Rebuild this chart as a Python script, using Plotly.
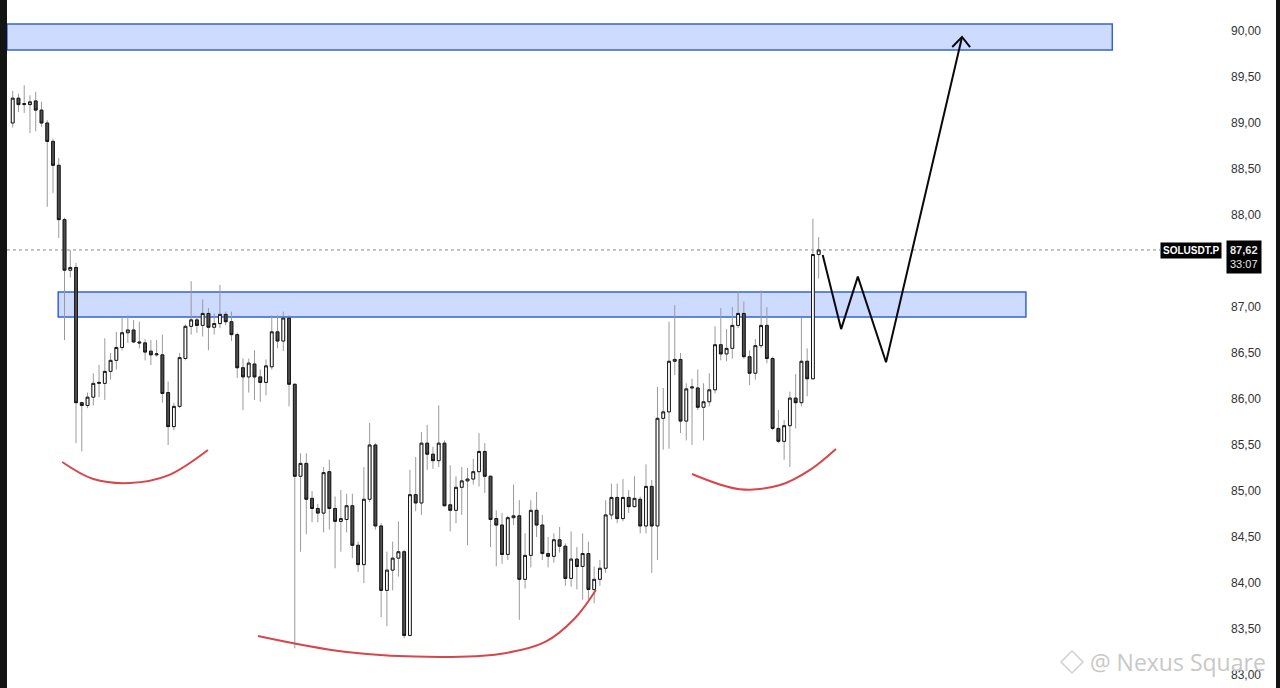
import plotly.graph_objects as go

# ---------------- data ----------------
opens = [89.00, 89.27, 89.20, 89.20, 89.24, 89.14, 89.00, 88.80, 88.54, 87.95,
         87.40, 87.43, 85.96, 85.93, 86.02, 86.17, 86.17, 86.30, 86.42, 86.56,
         86.72, 86.75, 86.62, 86.61, 86.52, 86.48, 86.48, 86.07, 85.70, 85.92,
         86.44, 86.79, 86.86, 86.80, 86.93, 86.78, 86.82, 86.92, 86.84, 86.70,
         86.34, 86.24, 86.38, 86.24, 86.18, 86.35, 86.73, 86.63, 86.88, 86.16,
         85.16, 85.30, 84.92, 84.81, 84.76, 85.21, 84.81, 84.67, 84.69, 84.84,
         84.41, 84.20, 84.91, 85.50, 84.62, 83.92, 84.14, 84.27, 84.34, 83.43,
         84.96, 84.87, 85.52, 85.40, 85.33, 85.52, 84.85, 84.79, 85.04, 85.11,
         85.13, 85.21, 85.43, 85.16, 84.70, 84.63, 84.31, 84.71, 84.73, 84.04,
         84.30, 84.79, 84.63, 84.32, 84.29, 84.47, 84.40, 84.05, 84.26, 84.18,
         84.32, 83.93, 84.04, 84.16, 84.74, 84.93, 84.70, 84.93, 84.83, 84.91,
         84.62, 85.05, 84.62, 85.79, 85.86, 86.41, 86.43, 85.76, 86.12, 86.12,
         85.91, 85.97, 86.10, 86.59, 86.49, 86.55, 86.80, 86.93, 86.46, 86.28,
         86.58, 86.80, 86.44, 85.68, 85.54, 85.71, 86.01, 85.96, 86.41, 86.22,
         87.57]
highs = [89.35, 89.32, 89.41, 89.30, 89.34, 89.23, 89.03, 88.83, 88.62, 87.97,
         87.62, 87.48, 85.97, 86.07, 86.28, 86.37, 86.66, 86.50, 86.73, 86.89,
         86.91, 86.86, 86.84, 86.65, 86.64, 86.64, 86.70, 86.19, 85.96, 86.50,
         86.81, 87.28, 86.90, 87.08, 86.99, 86.93, 87.24, 86.95, 86.95, 86.72,
         86.44, 86.44, 86.53, 86.32, 86.43, 86.91, 86.91, 86.95, 86.91, 86.17,
         85.41, 85.41, 85.00, 84.86, 85.26, 85.34, 84.94, 85.01, 84.97, 84.97,
         84.45, 85.26, 85.74, 85.52, 84.65, 84.34, 84.45, 84.67, 84.36, 85.23,
         85.37, 85.64, 85.72, 85.48, 85.93, 85.55, 85.28, 85.16, 85.26, 85.25,
         85.35, 85.63, 85.52, 85.17, 84.79, 84.76, 84.73, 85.07, 84.90, 84.54,
         84.90, 84.99, 84.74, 84.50, 84.54, 84.61, 84.43, 84.56, 84.39, 84.54,
         84.45, 84.18, 84.25, 84.90, 85.08, 85.08, 85.13, 85.01, 85.16, 84.94,
         85.29, 85.12, 86.13, 86.12, 86.84, 87.02, 86.50, 86.17, 86.22, 86.32,
         86.17, 86.28, 86.79, 86.99, 86.76, 87.00, 87.17, 87.06, 86.53, 86.65,
         87.18, 87.00, 86.46, 85.88, 85.77, 86.08, 86.27, 86.88, 86.55, 87.96,
         87.76]
lows = [88.95, 89.12, 89.11, 88.89, 88.91, 88.96, 88.09, 88.24, 87.75, 86.64,
        87.32, 85.52, 85.43, 85.90, 85.93, 86.02, 85.99, 86.21, 86.32, 86.53,
        86.61, 86.61, 86.55, 86.42, 86.37, 86.46, 85.96, 85.50, 85.66, 85.90,
        86.42, 86.70, 86.72, 86.68, 86.53, 86.70, 86.77, 86.80, 86.63, 86.23,
        85.88, 86.07, 85.99, 85.97, 86.04, 86.32, 86.55, 86.52, 85.92, 83.29,
        84.34, 84.53, 84.66, 84.66, 84.55, 84.58, 84.16, 84.34, 84.55, 84.27,
        84.12, 84.00, 84.88, 84.58, 83.63, 83.53, 83.92, 84.07, 83.40, 83.42,
        84.78, 84.74, 85.23, 85.24, 85.26, 84.83, 84.56, 84.65, 84.74, 84.41,
        85.07, 85.05, 84.98, 84.39, 84.18, 84.21, 84.25, 84.63, 83.60, 83.94,
        84.17, 84.50, 84.25, 84.17, 84.22, 84.33, 83.97, 83.96, 83.93, 83.82,
        83.82, 83.78, 83.97, 84.11, 84.69, 84.65, 84.67, 84.76, 84.82, 84.54,
        84.54, 84.11, 84.25, 85.45, 85.46, 86.26, 85.63, 85.55, 85.50, 85.88,
        85.55, 85.92, 86.06, 86.42, 86.41, 86.44, 86.77, 86.44, 86.15, 86.21,
        86.55, 86.39, 85.66, 85.52, 85.34, 85.26, 85.68, 85.92, 86.03, 86.21,
        87.31]
closes = [89.27, 89.20, 89.21, 89.23, 89.14, 89.00, 88.80, 88.54, 87.95, 87.40,
          87.43, 85.96, 85.93, 86.02, 86.17, 86.18, 86.30, 86.42, 86.56, 86.72,
          86.75, 86.62, 86.61, 86.51, 86.48, 86.49, 86.06, 85.70, 85.92, 86.45,
          86.79, 86.86, 86.80, 86.93, 86.78, 86.82, 86.92, 86.84, 86.70, 86.34,
          86.24, 86.39, 86.24, 86.18, 86.36, 86.73, 86.63, 86.88, 86.16, 85.16,
          85.30, 84.91, 84.81, 84.76, 85.20, 84.81, 84.67, 84.70, 84.84, 84.41,
          84.20, 84.91, 85.50, 84.62, 83.92, 84.14, 84.27, 84.34, 83.43, 84.96,
          84.87, 85.52, 85.40, 85.33, 85.52, 84.84, 84.79, 85.04, 85.11, 85.13,
          85.21, 85.43, 85.16, 84.69, 84.63, 84.31, 84.71, 84.73, 84.04, 84.30,
          84.79, 84.63, 84.32, 84.29, 84.47, 84.40, 84.05, 84.26, 84.18, 84.32,
          83.93, 84.04, 84.16, 84.74, 84.93, 84.70, 84.93, 84.83, 84.92, 84.62,
          85.05, 84.62, 85.79, 85.86, 86.41, 86.43, 85.76, 86.11, 86.13, 85.91,
          85.97, 86.10, 86.59, 86.49, 86.55, 86.80, 86.93, 86.46, 86.28, 86.58,
          86.80, 86.44, 85.68, 85.54, 85.71, 86.01, 85.96, 86.41, 86.22, 87.57,
          87.62]
bars = list(range(len(opens)))

last_price = 87.62
price_label = ["87,62", "33:07"]
symbol = "SOLUSDT.P"

tick_vals = [83.0, 83.5, 84.0, 84.5, 85.0, 85.5, 86.0, 86.5, 87.0, 87.5, 88.0, 88.5, 89.0, 89.5, 90.0]
tick_text = ["83,00", "83,50", "84,00", "84,50", "85,00", "85,50", "86,00", "86,50",
             "87,00", "", "88,00", "88,50", "89,00", "89,50", "90,00"]

# zones: (x start bar, x end bar, low price, high price)
zone_top = (-1.0, 191.0, 89.793, 90.076)
zone_mid = (7.9, 176.0, 86.891, 87.163)

# projected path (bar index, price)
path_x = [140.7, 143.9, 146.8, 151.7, 164.9]
path_y = [87.565, 86.76, 87.33, 86.40, 89.935]
arrow_x = [163.2, 164.9, 166.3]
arrow_y = [89.826, 89.935, 89.826]

# red curves (bar index, price)
curve1_x = [8.6, 14.0, 20.4, 27.0, 33.9]
curve1_y = [85.315, 85.13, 85.087, 85.17, 85.446]
curve2_x = [42.6, 58.0, 74.2, 84.6, 92.5, 97.7, 101.3]
curve2_y = [83.424, 83.25, 83.196, 83.228, 83.36, 83.62, 83.924]
curve3_x = [118.0, 126.3, 133.3, 138.5, 143.0]
curve3_y = [85.185, 85.02, 85.065, 85.23, 85.457]

# ---------------- figure ----------------
W, H = 1276, 688          # the last 4 px of the window are the dark page background
bar_px = 5.757
x0_px = 12.7


def px2bar(px):
    return (px - x0_px) / bar_px


x_lo, x_hi = px2bar(0), px2bar(W)
y_top = 90 + 31 / 92
y_bot = 90 - (H - 31) / 92

fig = go.Figure()

# wicks (gray)
fig.add_trace(go.Candlestick(
    x=bars, open=opens, high=highs, low=lows, close=closes,
    increasing=dict(line=dict(color="#9a9a9a", width=1), fillcolor="#ffffff"),
    decreasing=dict(line=dict(color="#9a9a9a", width=1), fillcolor="#4f4f4f"),
    whiskerwidth=0, showlegend=False, hoverinfo="skip"))
# bodies (black outline)
body_hi = [max(o, c) for o, c in zip(opens, closes)]
body_lo = [min(o, c) for o, c in zip(opens, closes)]
fig.add_trace(go.Candlestick(
    x=bars, open=opens, high=body_hi, low=body_lo, close=closes,
    increasing=dict(line=dict(color="#161616", width=1), fillcolor="#ffffff"),
    decreasing=dict(line=dict(color="#161616", width=1), fillcolor="#4f4f4f"),
    whiskerwidth=0, showlegend=False))

# red curves
for cx, cy in [(curve1_x, curve1_y), (curve2_x, curve2_y), (curve3_x, curve3_y)]:
    fig.add_trace(go.Scatter(x=cx, y=cy, mode="lines",
                             line=dict(color="#d8454a", width=2, shape="spline", smoothing=1.0),
                             showlegend=False, hoverinfo="skip"))

# black projection path
fig.add_trace(go.Scatter(x=path_x, y=path_y, mode="lines",
                         line=dict(color="#0a0a0a", width=2), showlegend=False, hoverinfo="skip"))
fig.add_trace(go.Scatter(x=arrow_x, y=arrow_y, mode="lines",
                         line=dict(color="#0a0a0a", width=2), showlegend=False, hoverinfo="skip"))

shapes = []
for z in (zone_top, zone_mid):
    shapes.append(dict(type="rect", xref="x", yref="y", x0=z[0], x1=z[1], y0=z[2], y1=z[3],
                       fillcolor="rgba(185,205,255,0.72)", line=dict(color="#3563d6", width=1.5),
                       layer="below"))
# last price dotted line
shapes.append(dict(type="line", xref="x", yref="y", x0=px2bar(7), x1=199.3, y0=last_price, y1=last_price,
                   line=dict(color="#8a8a8a", width=1, dash="dot"), layer="below"))
# dark frame strip on the left edge
shapes.append(dict(type="rect", xref="x", yref="paper", x0=x_lo - 1, x1=px2bar(7), y0=-0.01, y1=1.01,
                   fillcolor="#141414", line=dict(width=0), layer="above"))
# watermark logo (diamond)
cxp, cyp = 1072 / W, 1 - 662 / H
dx, dy = 11 / W, 11 / H
shapes.append(dict(type="path", xref="paper", yref="paper",
                   path=f"M {cxp-dx},{cyp} L {cxp},{cyp+dy} L {cxp+dx},{cyp} L {cxp},{cyp-dy} Z",
                   line=dict(color="#d0d0d0", width=1.5), fillcolor="rgba(0,0,0,0)"))

annotations = [
    dict(xref="paper", yref="y", x=1222 / W, y=87.61, xanchor="right", yanchor="middle",
         text=f"<b>{symbol}</b>", showarrow=False, bgcolor="#000000", borderpad=2,
         font=dict(family="Liberation Sans, Arial", size=10, color="#ffffff")),
    dict(xref="paper", yref="y", x=1226 / W, y=87.545, xanchor="left", yanchor="middle",
         text=f"<b>{price_label[0]}</b><br>{price_label[1]}", showarrow=False, bgcolor="#000000",
         borderpad=3, align="center",
         font=dict(family="Liberation Sans, Arial", size=11, color="#e8e8e8")),
    dict(xref="paper", yref="paper", x=1088 / W, y=1 - 662 / H, xanchor="left", yanchor="middle",
         text="@ Nexus Square", showarrow=False,
         font=dict(family="Open Sans, Noto Sans", size=23, color="#c8c8c8")),
]

fig.update_layout(
    width=W, height=H,
    margin=dict(l=0, r=0, t=0, b=0),
    paper_bgcolor="#ffffff", plot_bgcolor="#ffffff",
    shapes=shapes, annotations=annotations,
    xaxis=dict(range=[x_lo, x_hi], domain=[0, 1], visible=False,
               rangeslider=dict(visible=False), fixedrange=True),
    yaxis=dict(range=[y_bot, y_top], side="right", anchor="free", position=1230 / W,
               showgrid=False, zeroline=False,
               tickmode="array", tickvals=tick_vals, ticktext=tick_text, ticks="",
               tickfont=dict(family="Liberation Sans, Arial", size=12, color="#333333"),
               showline=False, fixedrange=True),
    showlegend=False,
)

page_js = ("document.body.style.margin='0';document.body.style.overflow='hidden';"
           "document.body.style.background='#141414';")
fig.write_html("out.html", config={"displayModeBar": False}, post_script=page_js)
